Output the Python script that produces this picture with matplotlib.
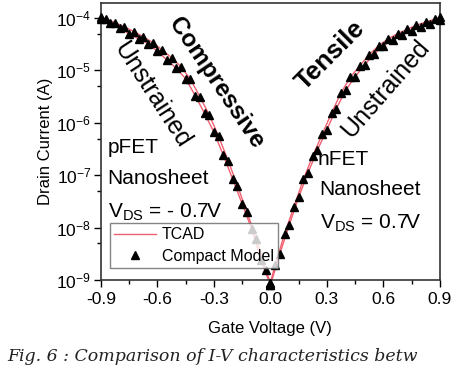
import numpy as np
import matplotlib
matplotlib.use("Agg")
import matplotlib.pyplot as plt
from matplotlib.ticker import LogLocator, FixedLocator, NullFormatter, FuncFormatter

plt.rcParams["font.family"] = ["Liberation Sans", "DejaVu Sans"]
plt.rcParams["mathtext.fontset"] = "custom"
plt.rcParams["mathtext.rm"] = "Liberation Sans"

# gate voltage magnitude grids (V)
vg = [0.0, 0.05, 0.10, 0.15, 0.20, 0.25, 0.30, 0.35, 0.40, 0.45,
      0.50, 0.55, 0.60, 0.65, 0.70, 0.75, 0.80, 0.85, 0.90]
vg_s = [0.0, 0.025, 0.075, 0.125, 0.175, 0.225, 0.275, 0.325, 0.375, 0.425,
        0.475, 0.525, 0.575, 0.625, 0.675, 0.725, 0.775, 0.825, 0.875, 0.90]

# log10 of drain current (A)
n_unstrained = [-9.10, -8.50, -7.95, -7.42, -6.95, -6.52, -6.13, -5.73, -5.38, -5.12,
                -4.90, -4.69, -4.53, -4.42, -4.33, -4.24, -4.17, -4.11, -4.04]
n_tensile = [-9.05, -8.72, -8.12, -7.60, -7.08, -6.63, -6.22, -5.81, -5.43, -5.13,
             -4.91, -4.70, -4.53, -4.40, -4.30, -4.22, -4.14, -4.08, -4.02, -3.99]
p_unstrained = [-9.10, -8.62, -8.02, -7.55, -7.08, -6.62, -6.18, -5.82, -5.48, -5.16,
                -4.96, -4.80, -4.64, -4.49, -4.40, -4.30, -4.20, -4.10, -4.02]
p_compressive = [-9.05, -8.80, -8.22, -7.70, -7.20, -6.72, -6.26, -5.85, -5.50, -5.17,
                 -4.93, -4.76, -4.61, -4.47, -4.36, -4.26, -4.17, -4.09, -4.02, -3.98]

xticks = [-0.9, -0.6, -0.3, 0.0, 0.3, 0.6, 0.9]

v = np.array(vg)
vs = np.array(vg_s)
fig = plt.figure(figsize=(4.74, 3.67), dpi=100)
ax = fig.add_axes([0.213, 0.237, 0.715, 0.755])

curves = [(v, n_unstrained), (vs, n_tensile), (-v, p_unstrained), (-vs, p_compressive)]
for i, (x, logi) in enumerate(curves):
    ax.plot(x, 10 ** np.array(logi), color="#f06070", lw=1.0,
            label="TCAD" if i == 0 else None, zorder=2)
    ax.plot(x, 10 ** np.array(logi), ls="none", marker="^", ms=5.2, color="black",
            label="Compact Model" if i == 0 else None, zorder=3, clip_on=False)

ax.set_yscale("log")
ax.set_xlim(-0.9, 0.9)
ax.set_ylim(1e-9, 10 ** -3.714)
ax.xaxis.set_major_locator(FixedLocator(xticks))
ax.xaxis.set_minor_locator(FixedLocator(np.arange(-0.75, 0.9, 0.3)))
ax.xaxis.set_major_formatter(FuncFormatter(lambda x, p: f"{x:.1f}"))
ax.yaxis.set_major_locator(LogLocator(base=10, numticks=10))
ax.yaxis.set_minor_locator(LogLocator(base=10, subs=(5,), numticks=10))
ax.yaxis.set_minor_formatter(NullFormatter())
ax.tick_params(which="both", direction="out", labelsize=12.5, width=1)
ax.tick_params(which="major", length=5)
ax.tick_params(which="minor", length=3)
ax.tick_params(axis="y", pad=2)
for s in ax.spines.values():
    s.set_linewidth(1.2)
    s.set_color("#333333")

ax.set_xlabel("Gate Voltage (V)", fontsize=12, labelpad=10)
ax.set_ylabel("Drain Current (A)", fontsize=12, labelpad=2)

# annotations
ax.text(0.339, 0.711, "Compressive", transform=ax.transAxes, fontsize=17.5, fontweight="bold",
        rotation=-56, ha="center", va="center")
ax.text(0.150, 0.668, "Unstrained", transform=ax.transAxes, fontsize=18,
        rotation=-57, ha="center", va="center")
ax.text(0.678, 0.812, "Tensile", transform=ax.transAxes, fontsize=18.5, fontweight="bold",
        rotation=45, ha="center", va="center")
ax.text(0.838, 0.69, "Unstrained", transform=ax.transAxes, fontsize=18,
        rotation=49, ha="center", va="center")

ax.text(0.02, 0.48, "pFET", transform=ax.transAxes, fontsize=15, va="center")
ax.text(0.02, 0.365, "Nanosheet", transform=ax.transAxes, fontsize=15, va="center")
ax.text(0.02, 0.245, r"V$_{\rm DS}$ = - 0.7V", transform=ax.transAxes, fontsize=15, va="center")
ax.text(0.64, 0.435, "nFET", transform=ax.transAxes, fontsize=15, va="center")
ax.text(0.645, 0.325, "Nanosheet", transform=ax.transAxes, fontsize=15, va="center")
ax.text(0.645, 0.205, r"V$_{\rm DS}$ = 0.7V", transform=ax.transAxes, fontsize=15, va="center")

leg = ax.legend(loc="lower left", bbox_to_anchor=(0.027, 0.045), fontsize=11.5,
                frameon=True, fancybox=False, borderpad=0.25, handlelength=2.6,
                handletextpad=0.4, labelspacing=0.4, borderaxespad=0)
leg.get_frame().set_edgecolor("#666666")
leg.get_frame().set_linewidth(1.0)

# figure caption
fig.text(0.015, 0.052, "Fig. 6 : Comparison of I-V characteristics betw",
         family="DejaVu Serif", style="italic", fontsize=12.5, va="top", color="#222222")

fig.savefig("out.png", dpi=100)
